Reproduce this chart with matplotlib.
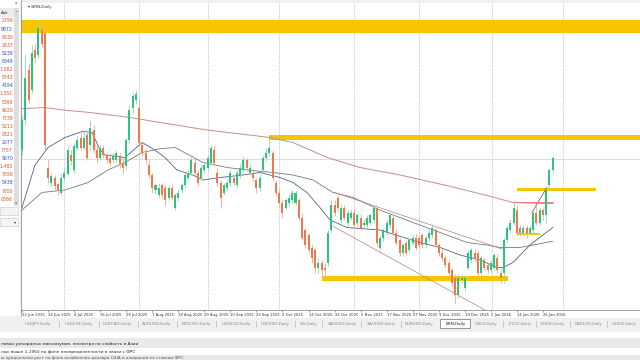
import matplotlib
matplotlib.use("Agg")
import matplotlib.pyplot as plt
from matplotlib.patches import Rectangle

# ---------------- data (BRN, Daily) ----------------
opens = [71.0,73.4,77.4,75.8,79.0,78.6,80.6,80.4,69.6,68.4,
         68.8,68.3,67.6,68.8,69.1,70.6,69.4,71.2,72.0,71.2,
         72.2,71.4,72.6,71.0,70.4,71.2,70.6,70.4,70.2,70.2,
         70.5,70.0,69.7,71.8,74.4,75.0,74.4,71.4,70.8,69.8,
         69.0,67.8,67.4,68.2,68.0,67.2,68.0,66.4,67.2,67.8,
         68.2,68.8,69.2,70.0,69.2,68.8,69.4,69.6,70.0,71.0,
         69.2,68.4,67.6,68.0,68.4,68.8,68.2,69.0,69.4,70.2,
         69.2,69.2,68.6,68.0,69.4,70.4,70.8,70.8,68.4,67.6,
         66.8,66.4,66.8,67.0,66.8,67.0,65.6,64.6,64.2,63.2,
         63.0,61.6,62.0,61.6,62.0,64.6,66.6,67.2,65.4,66.4,
         65.2,65.6,66.0,65.2,65.6,65.0,65.0,65.2,65.4,66.4,
         63.2,64.0,64.4,65.0,65.6,64.4,63.8,62.8,63.6,63.0,
         63.6,64.0,64.0,64.2,63.4,64.0,64.2,64.6,63.4,62.8,
         62.4,62.0,61.4,60.8,59.4,60.6,60.0,61.6,62.2,62.8,
         62.8,61.2,62.2,61.8,61.4,61.6,62.4,61.2,61.2,63.8,
         64.6,65.2,66.2,64.8,64.4,64.8,64.4,64.6,66.0,65.2,
         66.2,65.8,68.2,69.4]
highs = [73.8,78.6,78.0,79.4,79.5,81.4,81.0,80.8,70.2,69.2,
         69.0,68.4,69.1,69.6,71.3,71.0,71.6,72.1,72.4,72.6,
         72.6,73.4,73.0,71.4,71.5,71.4,70.8,70.8,70.8,71.0,
         70.8,70.4,72.0,74.6,75.6,75.8,75.0,71.6,71.2,70.2,
         69.2,68.4,68.4,68.4,68.2,68.2,68.3,67.6,67.9,68.4,
         69.2,69.4,70.6,70.4,69.4,69.8,70.0,70.6,71.4,71.3,
         69.6,68.6,68.4,68.6,69.4,69.0,69.4,69.9,70.5,70.4,
         69.9,69.4,68.8,69.1,70.6,71.2,72.0,71.0,68.6,67.9,
         67.1,67.2,67.5,67.8,67.8,67.2,66.0,64.8,64.4,63.5,
         63.2,62.4,62.2,62.0,64.6,67.0,67.0,67.6,66.7,66.6,
         66.2,66.3,66.3,66.0,65.9,65.5,65.8,66.0,66.6,66.6,
         64.2,64.8,65.4,66.0,65.9,64.7,64.0,63.6,63.8,64.0,
         64.2,64.3,64.2,64.4,64.2,64.6,65.1,64.8,63.6,63.1,
         62.6,62.2,61.6,61.1,61.1,61.1,61.0,63.0,63.2,63.1,
         63.0,62.6,62.4,62.0,62.2,62.8,62.7,61.5,64.0,65.0,
         65.5,67.0,66.6,65.0,65.0,65.0,65.0,66.2,66.6,66.4,
         66.4,68.0,69.6,70.5]
lows = [70.6,73.0,74.8,75.6,78.0,78.4,79.2,71.0,68.4,68.1,
        67.8,67.4,67.4,68.5,68.9,69.8,69.2,71.0,71.0,71.0,
        70.2,71.0,70.8,70.0,70.2,70.4,70.0,69.7,70.0,70.0,
        69.6,69.2,69.5,71.6,74.0,74.7,71.3,70.5,69.9,68.8,
        67.6,67.5,67.2,67.2,66.6,67.0,67.0,66.2,66.9,67.6,
        68.0,68.6,69.0,69.0,68.1,68.6,69.2,69.4,69.8,69.8,
        68.1,66.4,67.4,67.7,68.1,68.2,68.0,68.8,69.2,69.3,
        69.0,68.5,67.6,67.7,69.2,70.1,70.5,68.5,67.3,66.6,
        65.6,66.2,66.5,66.8,66.6,65.4,63.8,63.2,62.8,62.0,
        61.2,61.2,60.8,60.9,61.7,64.4,65.7,66.1,65.2,65.4,
        64.9,65.4,64.8,64.9,64.6,64.8,64.8,65.0,65.2,63.3,
        63.0,63.7,64.2,64.8,64.2,63.4,62.5,62.5,62.6,62.8,
        63.4,63.0,63.2,63.2,63.2,63.7,64.0,63.2,62.5,62.1,
        61.6,61.0,60.1,58.8,59.2,60.4,59.7,61.4,62.0,62.1,
        60.9,61.0,61.4,61.2,61.2,61.4,61.2,60.4,60.4,63.6,
        64.4,65.0,64.2,64.1,64.1,64.0,64.2,64.4,65.0,65.0,
        65.4,65.2,68.0,69.2]
closes = [73.4,76.8,75.0,78.8,78.4,80.8,79.5,71.4,68.8,68.9,
          68.1,67.8,68.8,69.2,71.0,70.1,71.3,71.8,71.2,72.0,
          70.4,72.8,71.0,70.4,71.2,70.6,70.2,70.0,70.5,70.8,
          69.9,69.6,71.8,74.2,75.3,75.5,71.6,70.8,70.2,69.0,
          68.0,68.2,68.0,67.4,67.0,68.0,67.2,67.4,67.6,68.2,
          69.0,69.2,70.2,69.2,68.4,69.6,69.8,70.4,71.2,70.0,
          68.4,67.2,68.2,68.4,69.2,68.4,69.2,69.6,70.2,69.6,
          69.6,68.8,68.0,68.8,70.4,70.8,71.2,68.8,67.6,66.8,
          66.0,67.0,67.2,67.6,67.6,65.6,64.0,63.4,63.0,62.4,
          61.6,62.0,61.4,61.4,64.4,66.6,66.0,66.4,66.4,65.6,
          66.0,66.0,65.0,65.8,64.8,65.2,65.6,65.8,66.4,63.6,
          64.0,64.6,65.2,65.8,64.4,63.6,62.8,63.4,62.8,63.8,
          64.0,63.2,63.4,63.4,64.0,64.4,64.8,63.4,62.8,62.4,
          61.8,61.2,60.4,59.4,60.8,60.8,60.8,62.8,63.0,62.4,
          61.2,62.4,61.6,61.4,62.0,62.6,61.4,60.8,63.8,64.8,
          65.2,66.4,64.4,64.4,64.8,64.4,64.8,66.0,65.2,66.2,
          65.8,67.8,69.4,70.4]

# moving averages (bar index, value)
ma_slow_idx = [0, 6.8, 12.6, 20.9, 33.2, 42.4, 56.8, 76.2, 83.2, 93.7, 103.8, 116.1, 131.4, 143.7, 150.8, 163]
ma_slow_val = [74.3, 74.4, 74.2, 74.0, 73.6, 73.2, 72.6, 72.0, 71.6, 70.4, 69.6, 69.0, 68.1, 67.3, 66.8, 66.7]
ma_fast_idx = [0, 4, 8, 13.2, 18.7, 21.5, 24, 25.5, 31.6, 36.9, 40.8, 43.9, 47.6, 52.5, 55.6, 60.8, 67.9,
               73.1, 76.2, 79.2, 83.2, 87.5, 91.5, 94.6, 99.8, 109.9, 122.2, 128.4, 134.5, 140.7, 145.9,
               147.7, 150.8, 156, 163]
ma_fast_val = [66.4, 69.8, 71.2, 72.0, 72.5, 72.4, 71.0, 70.6, 70.4, 71.6, 71.0, 70.4, 69.4, 69.0, 68.6, 68.8, 69.0,
               69.2, 69.0, 68.8, 68.4, 67.6, 66.4, 65.4, 64.8, 64.6, 63.6, 63.2, 62.6, 62.2, 61.6,
               61.6, 62.0, 63.4, 64.8]
ma_mid_idx = [0, 6.1, 13.2, 20.3, 26.4, 31.6, 36.9, 42.4, 47, 55.6, 63, 69.1, 77.1, 83.2, 89.4, 95.5, 101.7,
              109.9, 120.1, 128.4, 136.7, 142.8, 146.8, 152.9, 163]
ma_mid_val = [66.2, 67.6, 67.8, 68.4, 69.4, 70.0, 70.8, 71.1, 71.2, 70.0, 69.6, 69.4, 69.2, 69.0, 68.6, 67.6, 67.2,
              66.2, 65.2, 64.4, 63.6, 63.4, 63.2, 63.2, 63.7]

# drawn objects: levels (price) and spans (bar index)
zone_lo = [80.4, 71.8, 60.5, 67.7, 64.2]
zone_hi = [81.4, 72.2, 60.9, 68.0, 64.4]
zone_x0 = [-1, 75.9, 92.1, 152.0, 152.0]
zone_x1 = [200, 200, 149.3, 176.3, 159.1]
red_level = 66.84
red_x = [150.8, 163.1]
ask_level = 70.3
chan_upper = ([96.1, 148.3], [67.6, 63.0])
chan_lower = ([95.5, 142.2], [64.9, 58.2])
short_trend = ([156.6, 161.2], [66.0, 68.0])
month_starts = [13, 35.8, 57, 79, 102, 122, 144.4, 166.2]

date_idx = list(range(0, 161, 8))
date_labels = ["12 Jun 2025", "24 Jun 2025", "4 Jul 2025", "16 Jul 2025", "28 Jul 2025", "7 Aug 2025",
               "19 Aug 2025", "29 Aug 2025", "10 Sep 2025", "22 Sep 2025", "2 Oct 2025", "14 Oct 2025",
               "24 Oct 2025", "5 Nov 2025", "17 Nov 2025", "27 Nov 2025", "9 Dec 2025", "19 Dec 2025",
               "2 Jan 2026", "14 Jan 2026", "26 Jan 2026"]

tabs = ["USDJPY,Daily", "USDCHF,Daily", "USDCAD,Daily", "AUDUSD,Daily", "NZDUSD,Daily", "USDSGD,Daily",
        "GBPUSD,Daily", "NG,Daily", "XAGUSD,Daily", "XAUUSD,Daily", "EURUSD,Daily", "BRN,Daily",
        "CN50,Daily", "JP225,Daily", "GER40,Daily", "NAS100,Daily", "US500,Daily"]
tab_x = [25, 65, 103, 142, 182, 222, 261, 300, 328, 367, 405, 446, 475, 508, 540, 575, 612]
sep_x = [59, 99, 138, 177, 216, 256, 295, 322, 361, 401, 503, 536, 570, 607]

quotes = ["2799", "9872", "8230", "2637", "5239", "6349", "1.062", "5743", "4194", "1.351", "5390", "9620",
          "7739", "5213", "0321", "2077", "7757", "5670", "1.482", "7556", "5438", "7050", "0886"]
quote_dir = [0, 1, 0, 0, 1, 1, 0, 0, 1, 0, 0, 0, 0, 0, 0, 1, 0, 1, 0, 0, 1, 0, 0]

news = ["новых рекордных максимумов, несмотря на слабость в Азии",
        "лыс выше 1,1950 на фоне неопределенности в связи с ФРС",
        "ы продолжили рост на фоне ослабления доллара США и ожиданий по ставкам ФРС"]

# ---------------- figure ----------------
W, H = 640, 360
fig = plt.figure(figsize=(6.4, 3.6), dpi=100)
fig.patch.set_facecolor('#f0f0f0')
bg = fig.add_axes([0, 0, 1, 1])
bg.set_xlim(0, W); bg.set_ylim(H, 0); bg.axis('off')

# left market-watch strip
bg.add_patch(Rectangle((0, 0), 20, 316, facecolor='#ffffff', edgecolor='none'))
bg.add_patch(Rectangle((0, 8), 14, 9, facecolor='#ececec', edgecolor='none'))
bg.text(1, 12.5, "Ask", fontsize=3.2, color='#333333', va='center', ha='left')
bg.add_patch(Rectangle((13.5, 8), 5, 198, facecolor='#dedede', edgecolor='none'))
bg.text(16, 12.5, "^", fontsize=3.2, color='#444444', va='center', ha='center')
bg.text(16, 203, "v", fontsize=3.2, color='#444444', va='center', ha='center')
bg.text(16, 3, "x", fontsize=3.0, color='#444444', va='center', ha='center')
for k, q in enumerate(quotes):
    bg.text(13, 21 + k * 8.1, q, fontsize=3.3, ha='right', va='center',
            color='#2a55c8' if quote_dir[k] else '#d9542b')
bg.add_patch(Rectangle((0, 207), 18, 8, facecolor='#f4f4f4', edgecolor='#c8c8c8', lw=0.4))
bg.add_patch(Rectangle((0, 218), 18, 8, facecolor='#f4f4f4', edgecolor='#c8c8c8', lw=0.4))
bg.text(15, 222, "▾", fontsize=3.0, color='#333333', va='center', ha='center')
bg.plot([20.5, 20.5], [0, 316], color='#a0a0a0', lw=0.6)

# x-axis strip and tabs
bg.add_patch(Rectangle((21, 310), 619, 8, facecolor='#ffffff', edgecolor='none'))
bg.add_patch(Rectangle((0, 318), 640, 12, facecolor='#f0f0f0', edgecolor='none'))
for k, t in enumerate(tabs):
    if t == "BRN,Daily":
        bg.add_patch(Rectangle((440, 319), 30, 9, facecolor='#ffffff', edgecolor='#707070', lw=0.5))
        bg.text(tab_x[k], 324, t, fontsize=3.0, color='#202020', va='center', ha='left')
    else:
        bg.text(tab_x[k], 324, t, fontsize=3.0, color='#8a8a8a', va='center', ha='left')
for s in sep_x:
    bg.plot([s, s], [321, 327], color='#a8a8a8', lw=0.4)

# news rows
bg.add_patch(Rectangle((0, 332), 640, 28, facecolor='#ffffff', edgecolor='none'))
bg.add_patch(Rectangle((0, 338), 640, 10, facecolor='#e9e9e9', edgecolor='none'))
bg.add_patch(Rectangle((0, 355), 640, 6, facecolor='#e9e9e9', edgecolor='none'))
bg.text(1, 343.5, news[0], fontsize=3.1, color='#222222', va='center', ha='left')
bg.text(1, 351.5, news[1], fontsize=3.1, color='#222222', va='center', ha='left')
bg.text(1, 357.6, news[2], fontsize=3.0, color='#555555', va='center', ha='left')

# ---------------- chart ----------------
x_left_px, x_right_px = 21, 640
y_top_px, y_bot_px = 3, 310
ax = fig.add_axes([x_left_px / W, 1 - y_bot_px / H, (x_right_px - x_left_px) / W, (y_bot_px - y_top_px) / H])
ax.set_facecolor('#ffffff')
i0 = -0.307
ax.set_xlim(i0, i0 + (x_right_px - x_left_px) / 3.256)
ax.set_ylim(83 - 0.08 * y_bot_px, 83 - 0.08 * y_top_px)

for m in month_starts:
    ax.axvline(m, color='#9a9a9a', lw=0.5, ls=(0, (1, 1.5)), zorder=1)
ax.axhline(ask_level, color='#d8d8d8', lw=0.6, zorder=1)

for lo, hi, a, b in zip(zone_lo, zone_hi, zone_x0, zone_x1):
    ax.add_patch(Rectangle((a, lo), b - a, hi - lo, facecolor='#f7c600', edgecolor='none', zorder=2))

ax.plot(ma_slow_idx, ma_slow_val, color='#c39088', lw=0.7, zorder=3)
ax.plot(ma_mid_idx, ma_mid_val, color='#6f7f72', lw=0.6, zorder=3)
ax.plot(ma_fast_idx, ma_fast_val, color='#55608e', lw=0.6, zorder=3)
ax.plot(chan_upper[0], chan_upper[1], color='#c08070', lw=0.5, zorder=3)
ax.plot(chan_lower[0], chan_lower[1], color='#c08070', lw=0.5, zorder=3)
ax.plot(short_trend[0], short_trend[1], color='#555555', lw=0.5, zorder=3)
ax.plot(red_x, [red_level, red_level], color='#f08080', lw=0.8, zorder=3)

bull, bear = '#2cc47e', '#f0784a'
bull_w, bear_w = '#8fd9b0', '#f3a786'
for i, (o, h, l, c) in enumerate(zip(opens, highs, lows, closes)):
    up = c >= o
    ax.vlines(i, l, h, color=bull_w if up else bear_w, lw=0.6, zorder=4)
    ax.bar(i, max(abs(c - o), 0.06), bottom=min(o, c), width=0.62,
           color=bull if up else bear, lw=0, zorder=5)

ax.set_yticks([])
ax.set_xticks(date_idx)
ax.set_xticklabels(date_labels, fontsize=2.7, color='#333333', ha='left')
ax.tick_params(axis='x', length=1.2, width=0.4, pad=1.2, color='#666666')
for s in ['top', 'right']:
    ax.spines[s].set_visible(False)
ax.spines['left'].set_color('#909090'); ax.spines['left'].set_linewidth(0.6)
ax.spines['bottom'].set_color('#909090'); ax.spines['bottom'].set_linewidth(0.6)

ax.text(0.012, 0.995, "▾ BRN,Daily", transform=ax.transAxes, fontsize=3.0, color='#333333',
        va='top', ha='left', zorder=6)

fig.savefig("out.png", dpi=100, facecolor=fig.get_facecolor())
